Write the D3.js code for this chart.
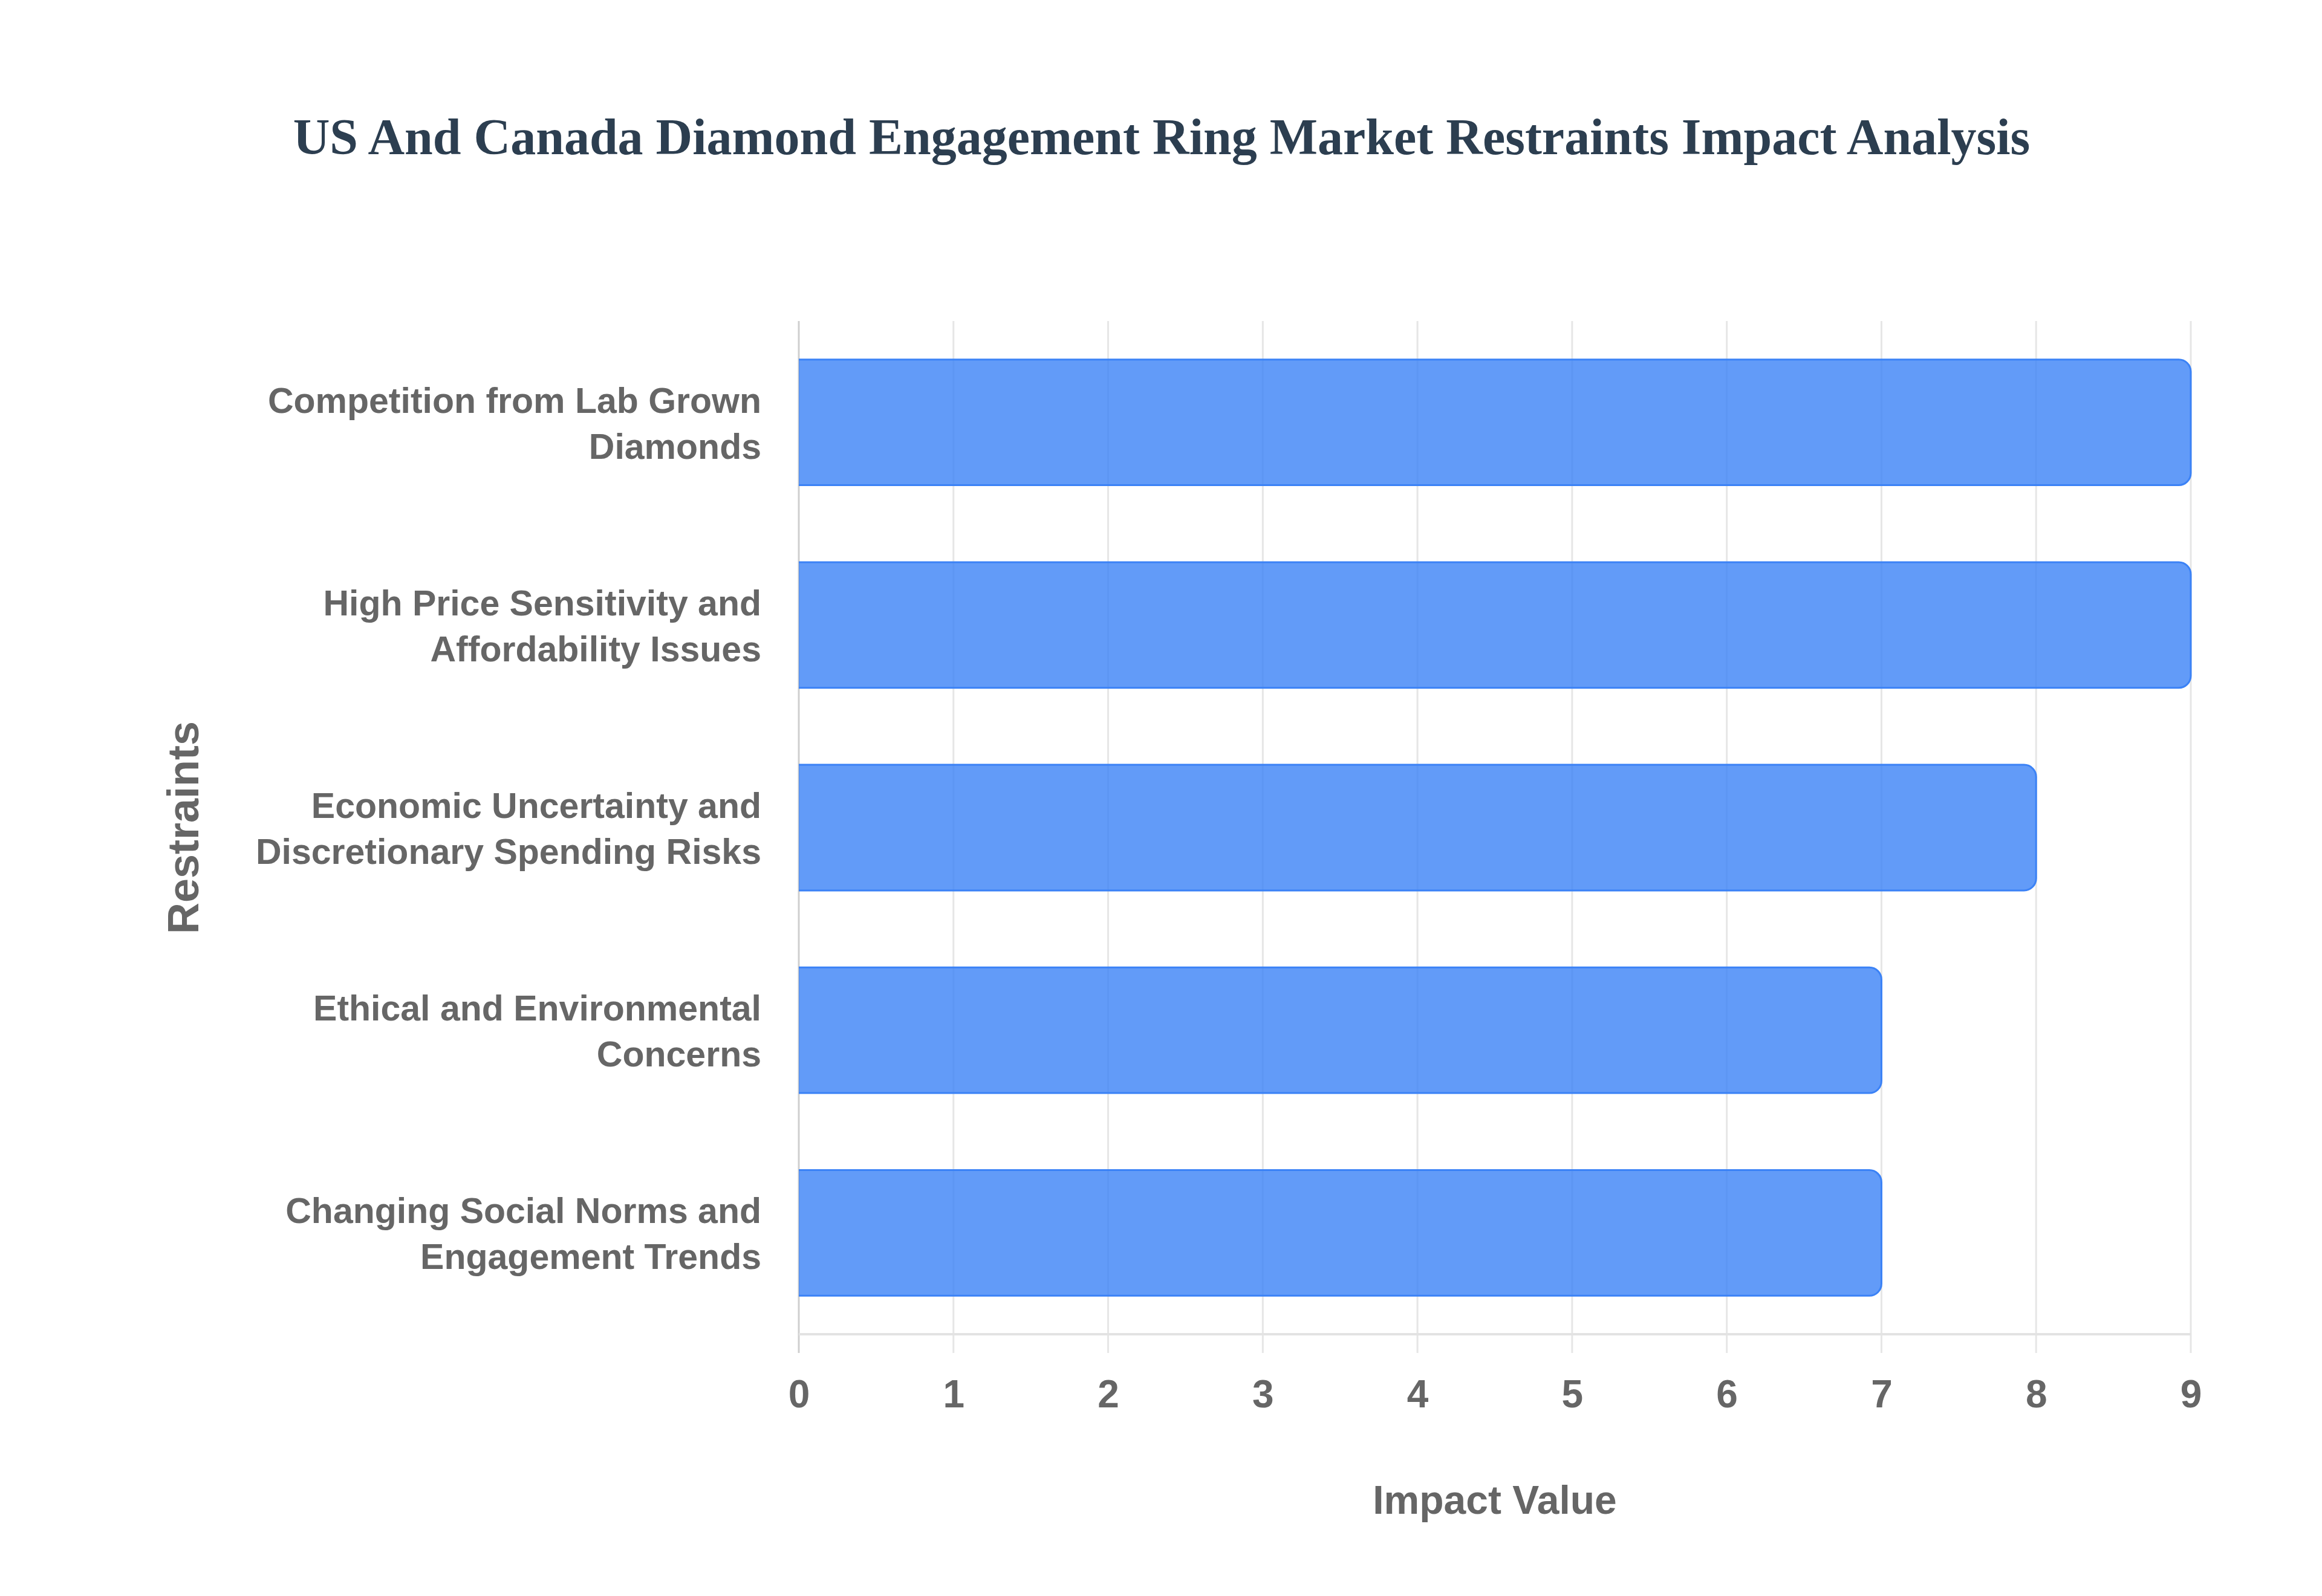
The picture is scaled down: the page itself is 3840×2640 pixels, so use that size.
<!DOCTYPE html>
<html>
<head>
<meta charset="utf-8">
<script src="https://cdn.jsdelivr.net/npm/d3@7"></script>
<style>
  html, body { margin: 0; padding: 0; background: #fff; }
  svg { display: block; }
</style>
</head>
<body>
<div id="chart"></div>
<script>
  const chartTitle = 'US And Canada Diamond Engagement Ring Market Restraints Impact Analysis';
  const restraints = [
    ['Competition from Lab Grown', 'Diamonds'],
    ['High Price Sensitivity and', 'Affordability Issues'],
    ['Economic Uncertainty and', 'Discretionary Spending Risks'],
    ['Ethical and Environmental', 'Concerns'],
    ['Changing Social Norms and', 'Engagement Trends']
  ];
  const impactValues = [9, 9, 8, 7, 7];
  const xTicks = [0, 1, 2, 3, 4, 5, 6, 7, 8, 9];
  const xAxisTitle = 'Impact Value';
  const yAxisTitle = 'Restraints';

  const width = 3840, height = 2640;
  const margin = {top: 531, right: 217, bottom: 433, left: 1321};
  const innerW = width - margin.left - margin.right;
  const innerH = height - margin.top - margin.bottom;
  const labelColor = '#666666';
  const sans = '"Liberation Sans", Arial, Helvetica, sans-serif';

  const svg = d3.select('#chart')
      .append('svg')
      .attr('width', width)
      .attr('height', height);

  svg.append('text')
      .attr('x', 1921)
      .attr('y', 255)
      .attr('text-anchor', 'middle')
      .attr('font-family', '"Liberation Serif", "Times New Roman", serif')
      .attr('font-weight', 'bold')
      .attr('font-size', 84)
      .attr('fill', '#2c3e50')
      .text(chartTitle);

  const g = svg.append('g')
      .attr('transform', 'translate(' + margin.left + ',' + margin.top + ')');

  const x = d3.scaleLinear().domain([0, 9]).range([0, innerW]);
  const y = d3.scaleBand()
      .domain(d3.range(restraints.length))
      .range([0, innerH])
      .paddingInner(0.38)
      .paddingOuter(0.19);

  // vertical grid, runs a bit past the bottom border like tick marks
  g.append('g')
      .selectAll('line')
      .data(xTicks)
      .enter()
      .append('line')
      .attr('x1', d => x(d))
      .attr('x2', d => x(d))
      .attr('y1', 0)
      .attr('y2', innerH + 31)
      .attr('stroke', d => d === 0 ? '#cfcfcf' : '#e6e6e6')
      .attr('stroke-width', 3);

  g.append('line')
      .attr('x1', 0)
      .attr('x2', innerW)
      .attr('y1', innerH)
      .attr('y2', innerH)
      .attr('stroke', '#e3e3e3')
      .attr('stroke-width', 4);

  // bars, square at the base and rounded at the value end
  const radius = 20;
  const barPath = (d, i) => {
    const x0 = x(0), x1 = x(d), y0 = y(i), y1 = y(i) + y.bandwidth();
    const p = d3.path();
    p.moveTo(x0, y0);
    p.lineTo(x1 - radius, y0);
    p.arcTo(x1, y0, x1, y0 + radius, radius);
    p.lineTo(x1, y1 - radius);
    p.arcTo(x1, y1, x1 - radius, y1, radius);
    p.lineTo(x0, y1);
    return p.toString();
  };

  g.append('g')
      .selectAll('path')
      .data(impactValues)
      .enter()
      .append('path')
      .attr('d', barPath)
      .attr('fill', 'rgba(59, 130, 246, 0.8)')
      .attr('stroke', '#3b82f6')
      .attr('stroke-width', 3);

  // x tick labels
  const xAxis = d3.axisBottom(x).tickValues(xTicks).tickSize(0).tickPadding(0);
  const xAxisG = g.append('g')
      .attr('transform', 'translate(0,' + innerH + ')')
      .call(xAxis);
  xAxisG.select('.domain').remove();
  xAxisG.selectAll('text')
      .attr('dy', null)
      .attr('y', 121)
      .attr('font-family', sans)
      .attr('font-weight', 'bold')
      .attr('font-size', 64)
      .attr('fill', labelColor);

  // y tick labels on two lines
  const yLabels = g.append('g')
      .selectAll('text')
      .data(restraints)
      .enter()
      .append('text')
      .attr('text-anchor', 'end')
      .attr('font-family', sans)
      .attr('font-weight', 'bold')
      .attr('font-size', 59)
      .attr('fill', labelColor)
      .attr('transform', (d, i) => 'translate(-62,' + (y(i) + y.bandwidth() / 2) + ')');

  yLabels.selectAll('tspan')
      .data(d => d)
      .enter()
      .append('tspan')
      .attr('x', 0)
      .attr('y', (d, j) => j === 0 ? -16 : 60)
      .text(d => d);

  svg.append('text')
      .attr('x', margin.left + innerW / 2)
      .attr('y', 2504)
      .attr('text-anchor', 'middle')
      .attr('font-family', sans)
      .attr('font-weight', 'bold')
      .attr('font-size', 66)
      .attr('fill', labelColor)
      .text(xAxisTitle);

  svg.append('text')
      .attr('transform', 'translate(328,' + (margin.top + innerH / 2) + ') rotate(-90)')
      .attr('text-anchor', 'middle')
      .attr('font-family', sans)
      .attr('font-weight', 'bold')
      .attr('font-size', 72)
      .attr('fill', labelColor)
      .text(yAxisTitle);
</script>
</body>
</html>
